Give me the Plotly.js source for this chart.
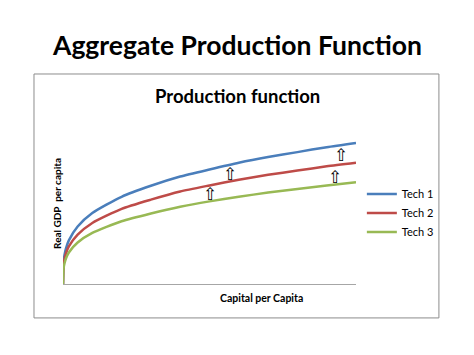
<!DOCTYPE html>
<html>
<head>
<meta charset="utf-8">
<script src="https://cdn.plot.ly/plotly-3.0.1.min.js"></script>
<style>
html,body{margin:0;padding:0;background:#fff;}
#chart{width:474px;height:355px;}
</style>
</head>
<body>
<div id="chart"></div>
<script>
// Capital per capita (x) and real GDP per capita for three technology levels
const capital = [0, 0.2, 0.5, 1, 2, 5, 10, 20, 30, 40, 50, 60, 70, 80, 90, 100];
const tech1 = [0, 0.62, 0.81, 1.00, 1.23, 1.62, 2.00, 2.46, 2.77, 3.03, 3.23, 3.42, 3.58, 3.72, 3.86, 3.98];
const tech2 = [0, 0.53, 0.70, 0.86, 1.06, 1.39, 1.72, 2.12, 2.38, 2.61, 2.78, 2.94, 3.08, 3.20, 3.32, 3.42];
const tech3 = [0, 0.45, 0.58, 0.72, 0.89, 1.17, 1.44, 1.77, 1.99, 2.18, 2.33, 2.46, 2.58, 2.68, 2.78, 2.87];
const seriesNames = ['Tech 1', 'Tech 2', 'Tech 3'];
const seriesColors = ['#4a7ebb', '#be4b48', '#98b954'];
// up-arrow markers showing the shift between technologies
const arrowX = [57, 50, 95, 93];
const arrowY = [3.11, 2.53, 3.65, 3.03];

const font = 'Lato, "Open Sans", sans-serif';
const ys = [tech1, tech2, tech3];
const traces = ys.map((y, i) => ({
  x: capital, y: y, type: 'scatter', mode: 'lines', name: seriesNames[i],
  line: {color: seriesColors[i], width: 2.5, shape: 'spline', smoothing: 0.6},
  hoverinfo: 'skip'
}));

const annotations = arrowX.map((x, i) => ({
  x: x, y: arrowY[i], xref: 'x', yref: 'y', text: '⇧', showarrow: false,
  xanchor: 'center', yanchor: 'middle',
  font: {family: 'DejaVu Sans', size: 17, color: '#000'}
}));
annotations.push({
  xref: 'paper', yref: 'paper', x: 0.594, y: 1.226, xanchor: 'center', yanchor: 'middle',
  text: '<b>Aggregate Production Function</b>',
  showarrow: false, font: {family: font, size: 26.5, color: '#000'}
});
annotations.push({
  xref: 'paper', yref: 'paper', x: 0.594, y: 0.964, xanchor: 'center', yanchor: 'middle',
  text: '<b>Production function</b>',
  showarrow: false, font: {family: font, size: 18.5, color: '#000'}
});
annotations.push({
  xref: 'paper', yref: 'paper', x: 0.679, y: -0.072, xanchor: 'center', yanchor: 'middle',
  text: '<b>Capital per Capita</b>',
  showarrow: false, font: {family: font, size: 10.5, color: '#000'}
});
annotations.push({
  xref: 'paper', yref: 'paper', x: -0.021, y: 0.415, xanchor: 'center', yanchor: 'middle',
  textangle: -90, text: '<b>Real GDP  per capita</b>',
  showarrow: false, font: {family: font, size: 10, color: '#000'}
});

const layout = {
  width: 474, height: 355,
  margin: {l: 63, r: 118, t: 89, b: 71},
  paper_bgcolor: '#fff', plot_bgcolor: '#fff',
  showlegend: true,
  legend: {x: 1.02, y: 0.364, xanchor: 'left', yanchor: 'middle',
    font: {family: font, size: 11, color: '#000'}, tracegroupgap: 0,
    bgcolor: 'rgba(0,0,0,0)'},
  xaxis: {range: [0, 100], showgrid: false, zeroline: false, showticklabels: false,
    ticks: '', showline: true, linecolor: '#a6a6a6', linewidth: 1},
  yaxis: {range: [0, 5.5], showgrid: false, zeroline: false, showticklabels: false,
    ticks: '', showline: false},
  shapes: [{type: 'rect', xref: 'paper', yref: 'paper', x0: -0.099, x1: 1.283, y0: -0.174, y1: 1.077,
    line: {color: '#8c8c8c', width: 1}, fillcolor: 'rgba(0,0,0,0)'}],
  annotations: annotations
};
Plotly.newPlot('chart', traces, layout, {displayModeBar: false, staticPlot: true});
</script>
</body>
</html>
